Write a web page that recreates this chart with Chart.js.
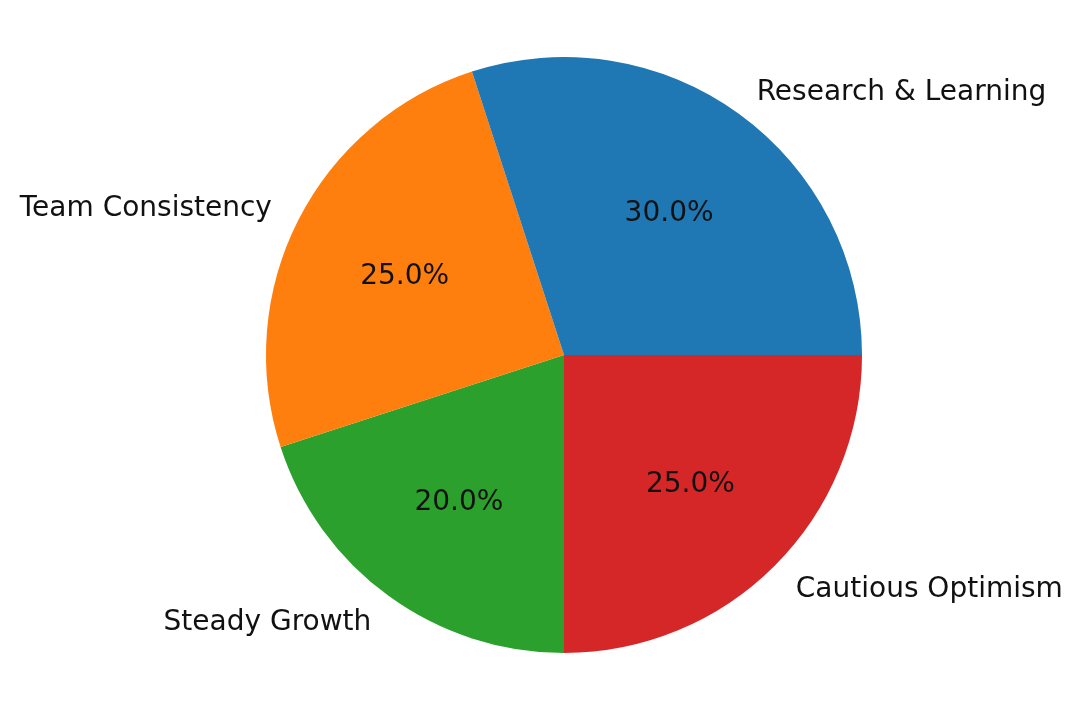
<!DOCTYPE html>
<html>
<head>
<meta charset="utf-8">
<script src="https://cdn.jsdelivr.net/npm/chart.js@4"></script>
<style>
  html, body { margin: 0; padding: 0; background: #fff; }
  #wrap { width: 1084px; height: 711px; }
</style>
</head>
<body>
<div id="wrap"><canvas id="pie" width="1084" height="711"></canvas></div>
<script>
// data, listed counter-clockwise from 3 o'clock as in the original
const categories = ['Research & Learning', 'Team Consistency', 'Steady Growth', 'Cautious Optimism'];
const shares = [30, 25, 20, 25];
const colors = ['#1f77b4', '#ff7f0e', '#2ca02c', '#d62728'];

// Chart.js draws clockwise, so reverse to get the same layout
const labels = categories.slice().reverse();
const values = shares.slice().reverse();
const bg = colors.slice().reverse();

const FONT = '28px "DejaVu Sans"';

// draws the outside labels and the percent texts like matplotlib's autopct
const pieText = {
    id: 'pieText',
    afterDatasetsDraw(chart) {
        const ctx = chart.ctx;
        const meta = chart.getDatasetMeta(0);
        const total = values.reduce((s, v) => s + v, 0);
        ctx.save();
        ctx.font = FONT;
        ctx.fillStyle = '#111';
        ctx.textBaseline = 'middle';
        meta.data.forEach((arc, i) => {
            const mid = (arc.startAngle + arc.endAngle) / 2;
            const r = arc.outerRadius;
            const cx = arc.x, cy = arc.y + 3;
            // percent at 0.6 r
            ctx.textAlign = 'center';
            const pct = (values[i] / total * 100).toFixed(1) + '%';
            ctx.fillText(pct, cx + Math.cos(mid) * r * 0.6, cy + Math.sin(mid) * r * 0.6);
            // label at 1.1 r
            const lx = cx + Math.cos(mid) * r * 1.1;
            const ly = cy + Math.sin(mid) * r * 1.1;
            ctx.textAlign = Math.cos(mid) >= 0 ? 'left' : 'right';
            ctx.fillText(labels[i], lx, ly);
        });
        ctx.restore();
    }
};

new Chart(document.getElementById('pie'), {
    type: 'pie',
    data: {
        labels: labels,
        datasets: [{
            data: values,
            backgroundColor: bg,
            borderWidth: 0,
        }],
    },
    options: {
        responsive: false,
        animation: false,
        rotation: 90,
        layout: {
            padding: { left: 266, right: 222, top: 57, bottom: 58 },
        },
        plugins: {
            legend: { display: false },
            tooltip: { enabled: false },
        },
    },
    plugins: [pieText],
});
</script>
</body>
</html>
